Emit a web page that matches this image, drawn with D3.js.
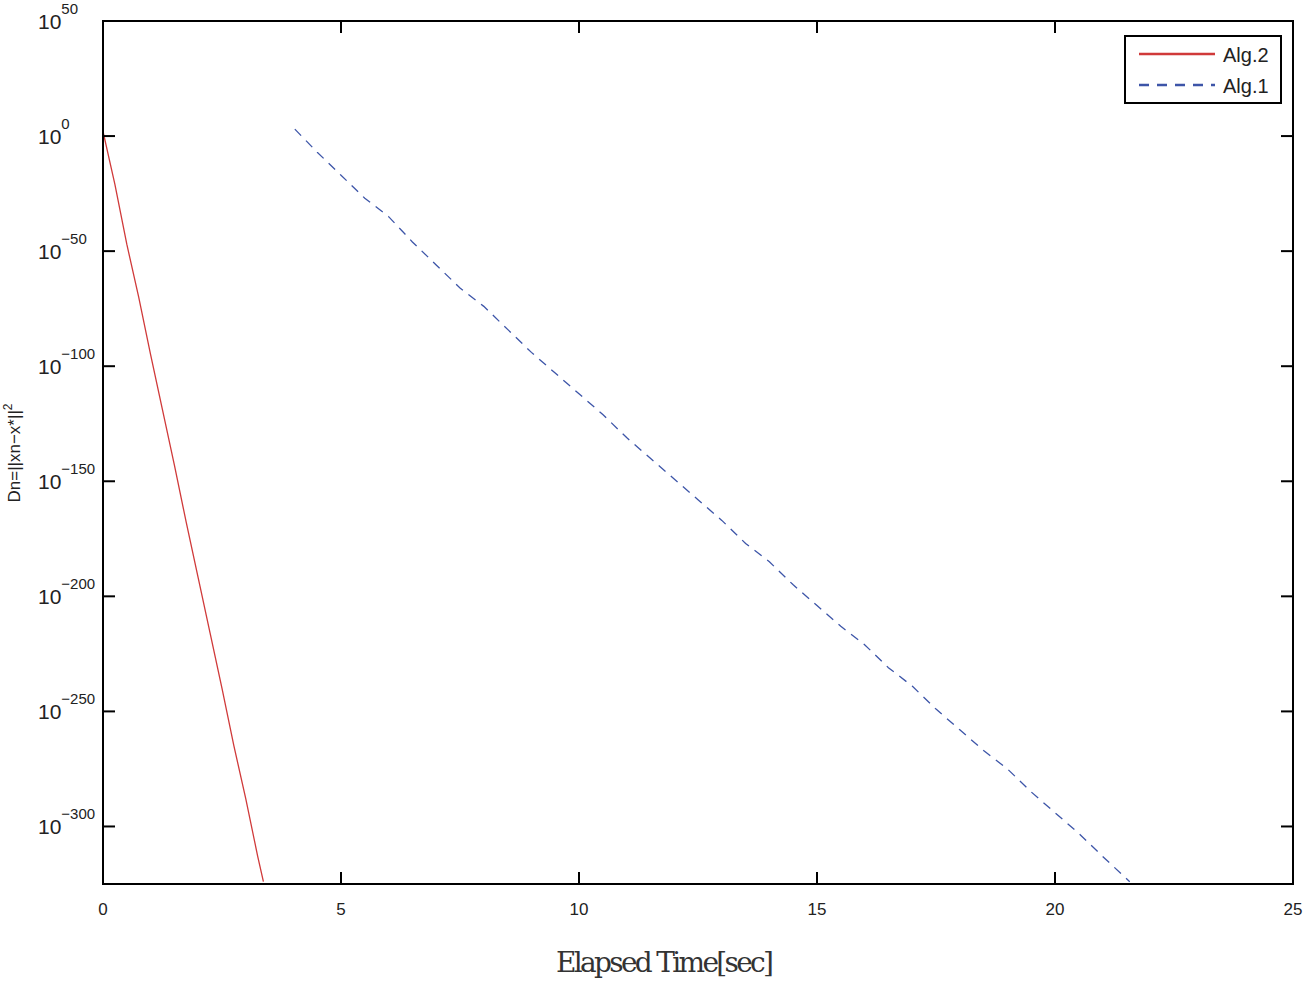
<!DOCTYPE html>
<html><head><meta charset="utf-8">
<script src="https://cdn.jsdelivr.net/npm/d3@7"></script>
<style>body{margin:0;background:#fff}</style></head>
<body><svg id="c" width="1305" height="982"></svg>
<script>
const xTicks=[0,5,10,15,20,25];
const yTickExps=[50,0,-50,-100,-150,-200,-250,-300];
const alg2T=[0,0.25,0.5,0.75,1.0,1.25,1.5,1.75,2.0,2.25,2.5,2.75,3.0,3.25,3.37];
const alg2E=[2,-21,-47,-70,-95,-119,-143,-168,-192,-216,-240,-265,-288,-313,-324];
const alg1T=[4.03,4.5,5.0,5.5,6.0,6.5,7.0,7.5,8.0,8.5,9.0,9.5,10.0,10.5,11.0,11.5,12.0,12.5,13.0,13.5,14.0,14.5,15.0,15.5,16.0,16.5,17.0,17.5,18.0,18.5,19.0,19.5,20.0,20.5,21.0,21.57];
const alg1E=[3,-7,-17,-27,-35,-46,-56,-66,-74,-84,-94,-103,-112,-121,-131,-140,-149,-158,-167,-177,-185,-195,-204,-213,-221,-231,-239,-249,-258,-267,-275,-285,-294,-303,-313,-324];
const names=["Alg.2","Alg.1"];

const svg=d3.select("#c");
const L=103,R=1293,T=21,B=884;
const x=d3.scaleLinear().domain([0,25]).range([L,R]);
const y=d3.scaleLinear().domain([-325,50]).range([B,T]);
const tf="'Liberation Sans',Arial,sans-serif";

const line=d3.line().x(d=>x(d[0])).y(d=>y(d[1]));
const clip=svg.append("clipPath").attr("id","cp").append("rect").attr("x",L).attr("y",T).attr("width",R-L).attr("height",B-T);
const g=svg.append("g").attr("clip-path","url(#cp)");
g.append("path").datum(alg2T.map((t,i)=>[t,alg2E[i]])).attr("d",line).attr("fill","none").attr("stroke","#d03a3a").attr("stroke-width",1.3);
g.append("path").datum(alg1T.map((t,i)=>[t,alg1E[i]])).attr("d",line).attr("fill","none").attr("stroke","#3d55a8").attr("stroke-width",1.3).attr("stroke-dasharray","9,7");

svg.append("rect").attr("x",L).attr("y",T).attr("width",R-L).attr("height",B-T).attr("fill","none").attr("stroke","#000").attr("stroke-width",2);
const tl=12;
xTicks.forEach(v=>{
  svg.append("line").attr("x1",x(v)).attr("x2",x(v)).attr("y1",B).attr("y2",B-tl).attr("stroke","#000").attr("stroke-width",2);
  svg.append("line").attr("x1",x(v)).attr("x2",x(v)).attr("y1",T).attr("y2",T+tl).attr("stroke","#000").attr("stroke-width",2);
  svg.append("text").attr("x",x(v)).attr("y",B+31).attr("text-anchor","middle").attr("font-family",tf).attr("font-size",17).attr("fill","#222").text(v);
});
yTickExps.forEach(e=>{
  svg.append("line").attr("x1",L).attr("x2",L+tl).attr("y1",y(e)).attr("y2",y(e)).attr("stroke","#000").attr("stroke-width",2);
  svg.append("line").attr("x1",R).attr("x2",R-tl).attr("y1",y(e)).attr("y2",y(e)).attr("stroke","#000").attr("stroke-width",2);
  const t=svg.append("text").attr("x",38).attr("y",y(e)+8).attr("font-family",tf).attr("font-size",21).attr("fill","#222");
  t.append("tspan").text("10");
  t.append("tspan").attr("dy",-15).attr("font-size",15).text(String(e).replace("-","\u2212"));
});
svg.append("text").attr("transform","translate(20,453) rotate(-90)").attr("text-anchor","middle").attr("font-family",tf).attr("font-size",17).attr("fill","#222")
  .html("Dn=||xn\u2212x*||<tspan dy='-8' font-size='12'>2</tspan>");
svg.append("text").attr("x",665).attr("y",972).attr("text-anchor","middle").attr("font-family","'DejaVu Serif','Liberation Serif',serif").attr("font-size",28).attr("fill","#333").attr("textLength",218).text("Elapsed Time[sec]");

const lg=svg.append("g");
lg.append("rect").attr("x",1125).attr("y",36).attr("width",156).attr("height",67).attr("fill","#fff").attr("stroke","#000").attr("stroke-width",2);
[["#d03a3a",null],["#3d55a8","10,8"]].forEach((s,i)=>{
  const yy=54+i*31;
  lg.append("line").attr("x1",1139).attr("x2",1215).attr("y1",yy).attr("y2",yy).attr("stroke",s[0]).attr("stroke-width",2.4).attr("stroke-dasharray",s[1]);
  lg.append("text").attr("x",1223).attr("y",yy+8).attr("font-family",tf).attr("font-size",20).attr("fill","#222").text(names[i]);
});
</script></body></html>
